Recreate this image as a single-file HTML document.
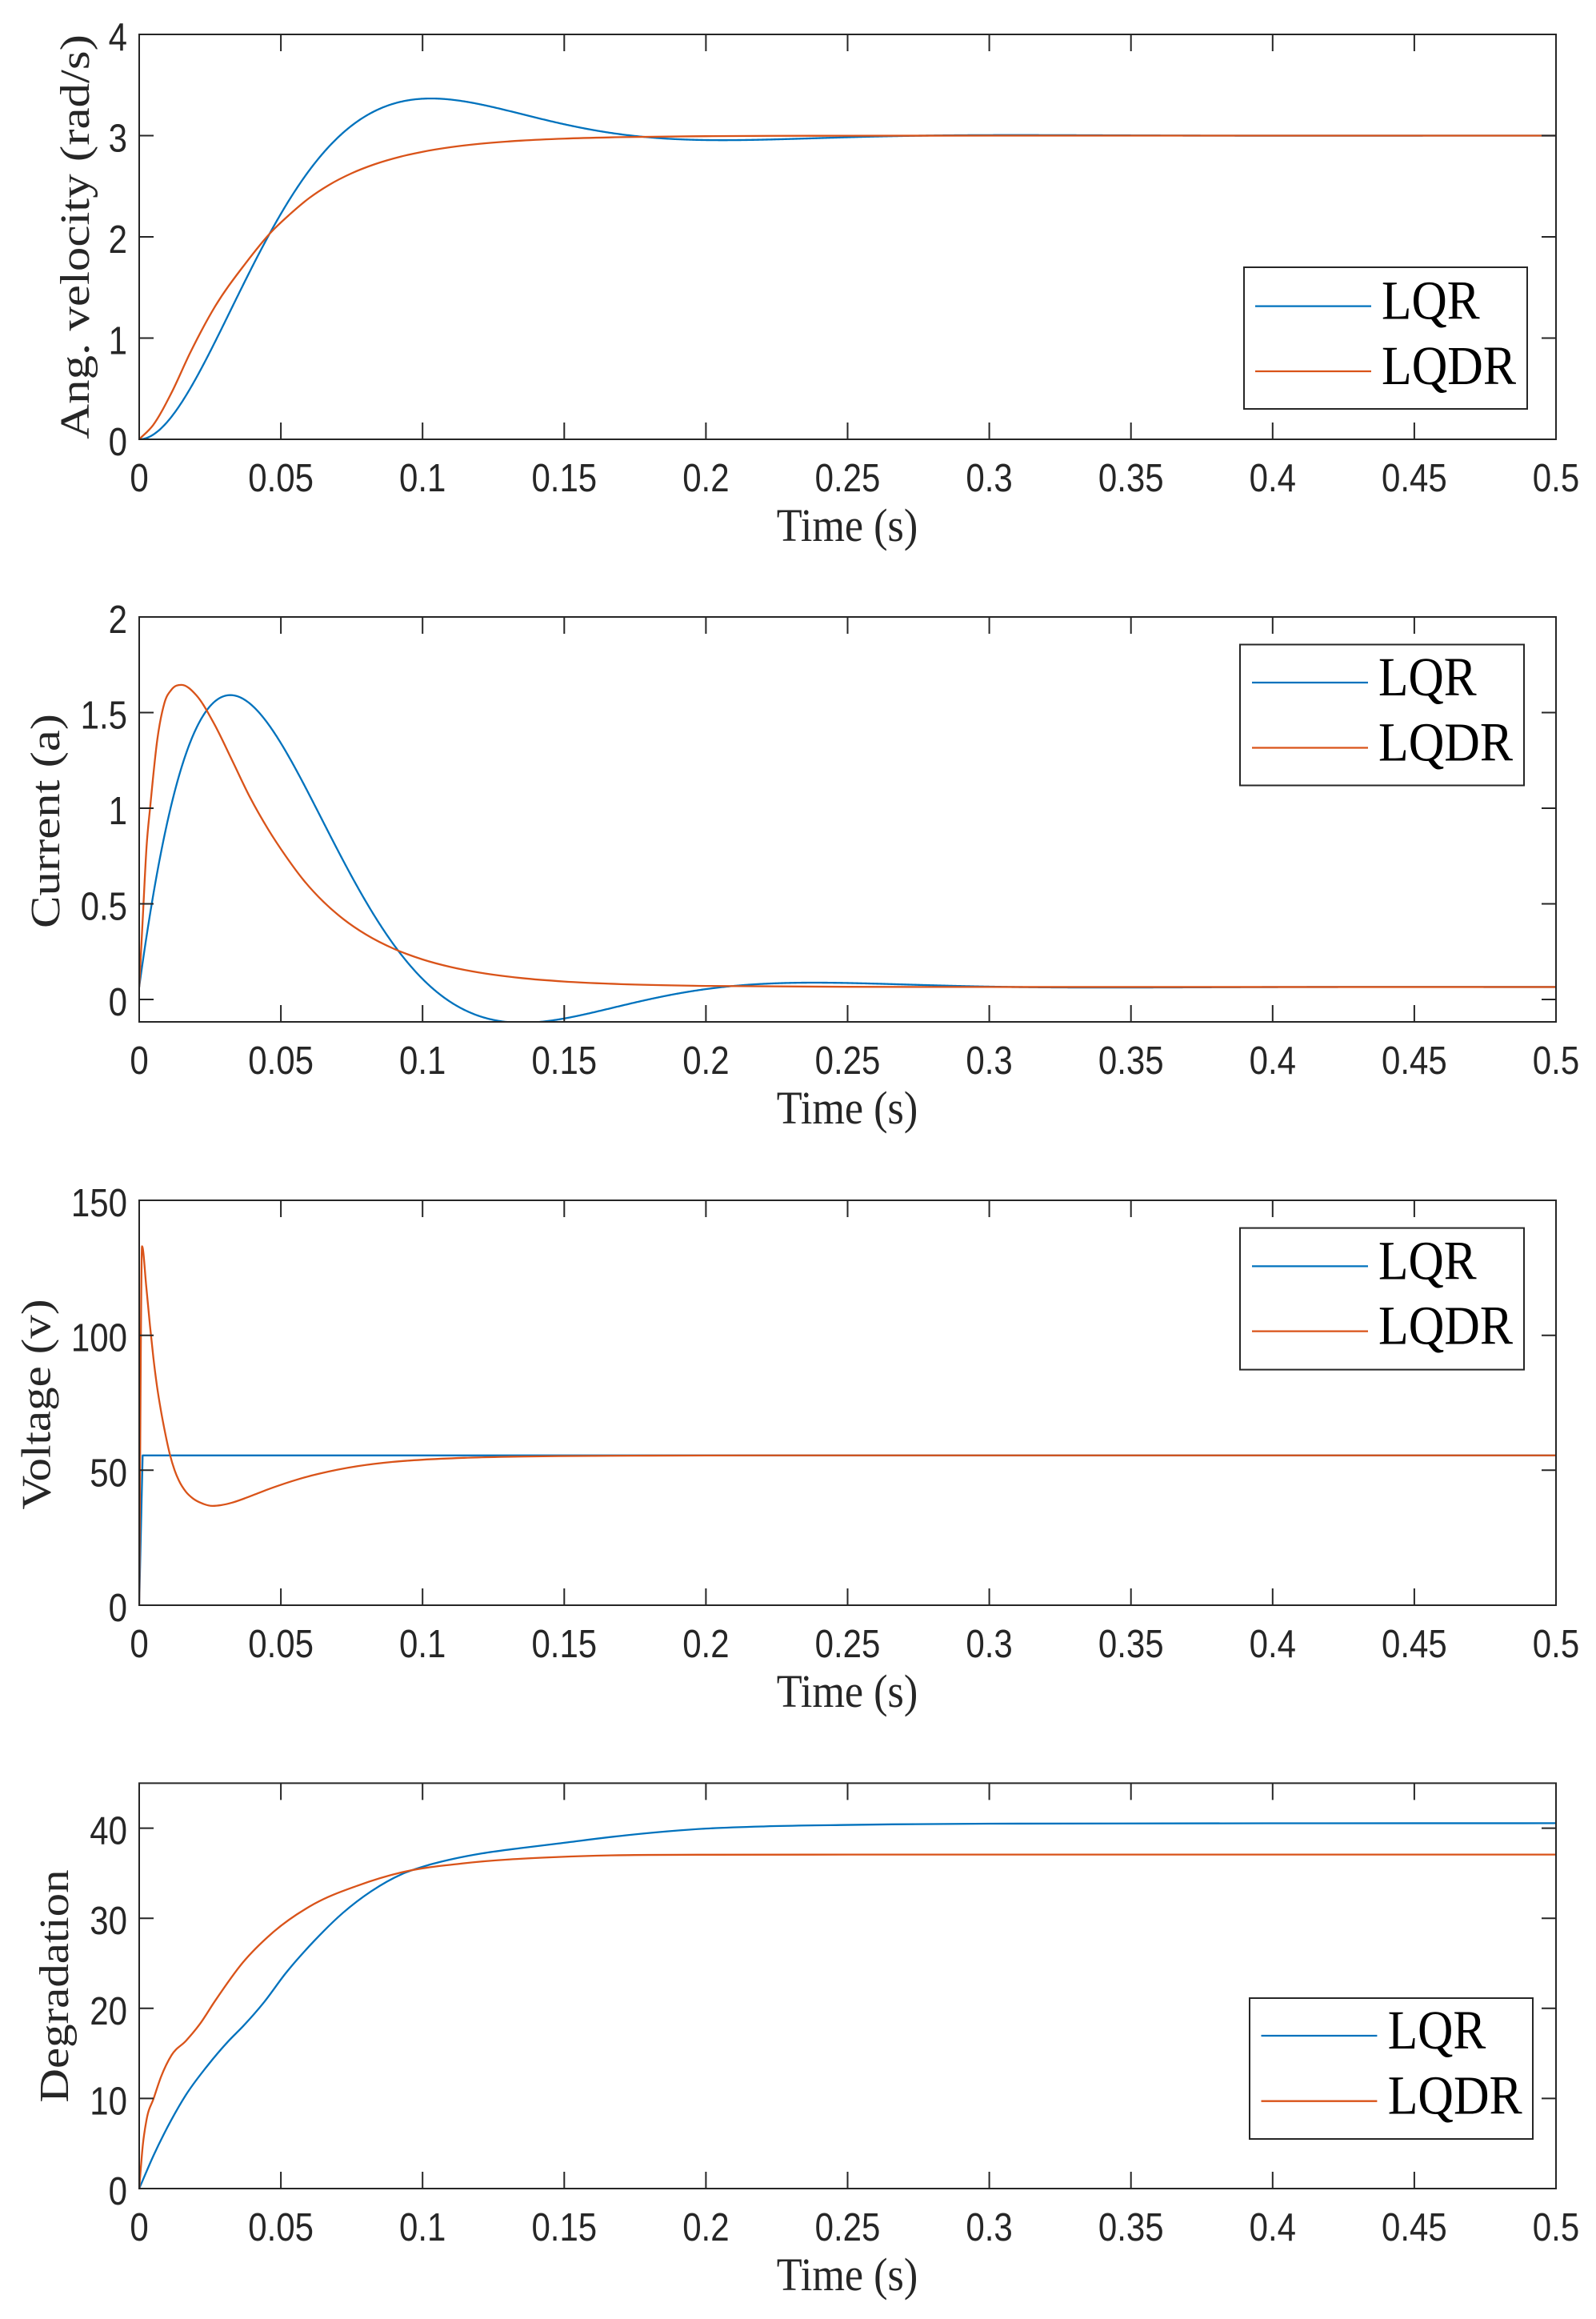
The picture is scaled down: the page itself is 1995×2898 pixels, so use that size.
<!DOCTYPE html>
<html>
<head>
<meta charset="utf-8">
<style>
html,body{margin:0;padding:0;background:#fff;}
svg{display:block;}
.tk{font-family:"Liberation Sans",Arial,sans-serif;font-size:42px;fill:#262626;}
.xt{text-anchor:middle;}
.yt{text-anchor:end;}
.lab{font-family:"Liberation Serif","Times New Roman",serif;font-size:52px;fill:#262626;text-anchor:middle;}
.tl{font-family:"Liberation Serif","Times New Roman",serif;font-size:50px;fill:#262626;text-anchor:middle;}
.lg{font-family:"Liberation Serif","Times New Roman",serif;font-size:59.4px;fill:#000;}
</style>
</head>
<body>
<svg width="1995" height="2898" viewBox="0 0 1995 2898">
<rect x="0" y="0" width="1995" height="2898" fill="#fff"/>
<defs>
<clipPath id="c1"><rect x="174" y="43" width="1771" height="506"/></clipPath>
<clipPath id="c2"><rect x="174" y="771" width="1771" height="506"/></clipPath>
<clipPath id="c3"><rect x="174" y="1500" width="1771" height="506"/></clipPath>
<clipPath id="c4"><rect x="174" y="2228.4" width="1771" height="506.6"/></clipPath>
</defs>

<!-- series -->
<g fill="none" stroke-width="2.3" stroke-linejoin="round" stroke-linecap="round">
<path id="p1b" clip-path="url(#c1)" stroke="#0072BD" d=""/>
<path id="p1r" clip-path="url(#c1)" stroke="#D95319" d=""/>
<path id="p2b" clip-path="url(#c2)" stroke="#0072BD" d=""/>
<path id="p2r" clip-path="url(#c2)" stroke="#D95319" d=""/>
<path id="p3b" clip-path="url(#c3)" stroke="#0072BD" d="M174,2006L178.3,1818.8L1945,1818.8"/>
<path id="p3r" clip-path="url(#c3)" stroke="#D95319" d=""/>
<path id="p4b" clip-path="url(#c4)" stroke="#0072BD" d=""/>
<path id="p4r" clip-path="url(#c4)" stroke="#D95319" d=""/>
</g>

<!-- frames -->
<g fill="none" stroke="#262626" stroke-width="2">
<rect x="174" y="43" width="1771" height="506"/>
<rect x="174" y="771" width="1771" height="506"/>
<rect x="174" y="1500" width="1771" height="506"/>
<rect x="174" y="2228.4" width="1771" height="506.6"/>
<path id="ticks" d=""/>
</g>

<!-- legends -->
<g stroke="#262626" stroke-width="2" fill="#fff">
<rect x="1555" y="334" width="354" height="177"/>
<rect x="1550" y="805.5" width="355" height="176"/>
<rect x="1550" y="1534.6" width="355" height="177"/>
<rect x="1562" y="2497" width="354" height="176"/>
</g>
<g stroke-width="2.3" fill="none">
<path stroke="#0072BD" d="M1569,382.6H1714M1565,853H1710M1565,1582.4H1710M1576.5,2544H1721.4"/>
<path stroke="#D95319" d="M1569,464H1714M1565,934.5H1710M1565,1663.6H1710M1576.5,2625.7H1721.4"/>
</g>
<g class="lg">
<text transform="translate(1727,398.6) scale(1,1.16)" textLength="122.6" lengthAdjust="spacingAndGlyphs">LQR</text>
<text transform="translate(1727,480) scale(1,1.16)" textLength="168" lengthAdjust="spacingAndGlyphs">LQDR</text>
<text transform="translate(1723,869) scale(1,1.16)" textLength="122.6" lengthAdjust="spacingAndGlyphs">LQR</text>
<text transform="translate(1723,950.5) scale(1,1.16)" textLength="168" lengthAdjust="spacingAndGlyphs">LQDR</text>
<text transform="translate(1723,1598.4) scale(1,1.16)" textLength="122.6" lengthAdjust="spacingAndGlyphs">LQR</text>
<text transform="translate(1723,1679.6) scale(1,1.16)" textLength="168" lengthAdjust="spacingAndGlyphs">LQDR</text>
<text transform="translate(1734.7,2560) scale(1,1.16)" textLength="122.6" lengthAdjust="spacingAndGlyphs">LQR</text>
<text transform="translate(1734.7,2641.7) scale(1,1.16)" textLength="168" lengthAdjust="spacingAndGlyphs">LQDR</text>
</g>

<!-- x tick labels -->
<g class="tk xt">
<text transform="translate(174,614) scale(1,1.16)">0</text>
<text transform="translate(351.1,614) scale(1,1.16)">0.05</text>
<text transform="translate(528.2,614) scale(1,1.16)">0.1</text>
<text transform="translate(705.3,614) scale(1,1.16)">0.15</text>
<text transform="translate(882.4,614) scale(1,1.16)">0.2</text>
<text transform="translate(1059.5,614) scale(1,1.16)">0.25</text>
<text transform="translate(1236.6,614) scale(1,1.16)">0.3</text>
<text transform="translate(1413.7,614) scale(1,1.16)">0.35</text>
<text transform="translate(1590.8,614) scale(1,1.16)">0.4</text>
<text transform="translate(1767.9,614) scale(1,1.16)">0.45</text>
<text transform="translate(1945,614) scale(1,1.16)">0.5</text>

<text transform="translate(174,1342) scale(1,1.16)">0</text>
<text transform="translate(351.1,1342) scale(1,1.16)">0.05</text>
<text transform="translate(528.2,1342) scale(1,1.16)">0.1</text>
<text transform="translate(705.3,1342) scale(1,1.16)">0.15</text>
<text transform="translate(882.4,1342) scale(1,1.16)">0.2</text>
<text transform="translate(1059.5,1342) scale(1,1.16)">0.25</text>
<text transform="translate(1236.6,1342) scale(1,1.16)">0.3</text>
<text transform="translate(1413.7,1342) scale(1,1.16)">0.35</text>
<text transform="translate(1590.8,1342) scale(1,1.16)">0.4</text>
<text transform="translate(1767.9,1342) scale(1,1.16)">0.45</text>
<text transform="translate(1945,1342) scale(1,1.16)">0.5</text>

<text transform="translate(174,2071) scale(1,1.16)">0</text>
<text transform="translate(351.1,2071) scale(1,1.16)">0.05</text>
<text transform="translate(528.2,2071) scale(1,1.16)">0.1</text>
<text transform="translate(705.3,2071) scale(1,1.16)">0.15</text>
<text transform="translate(882.4,2071) scale(1,1.16)">0.2</text>
<text transform="translate(1059.5,2071) scale(1,1.16)">0.25</text>
<text transform="translate(1236.6,2071) scale(1,1.16)">0.3</text>
<text transform="translate(1413.7,2071) scale(1,1.16)">0.35</text>
<text transform="translate(1590.8,2071) scale(1,1.16)">0.4</text>
<text transform="translate(1767.9,2071) scale(1,1.16)">0.45</text>
<text transform="translate(1945,2071) scale(1,1.16)">0.5</text>

<text transform="translate(174,2800) scale(1,1.16)">0</text>
<text transform="translate(351.1,2800) scale(1,1.16)">0.05</text>
<text transform="translate(528.2,2800) scale(1,1.16)">0.1</text>
<text transform="translate(705.3,2800) scale(1,1.16)">0.15</text>
<text transform="translate(882.4,2800) scale(1,1.16)">0.2</text>
<text transform="translate(1059.5,2800) scale(1,1.16)">0.25</text>
<text transform="translate(1236.6,2800) scale(1,1.16)">0.3</text>
<text transform="translate(1413.7,2800) scale(1,1.16)">0.35</text>
<text transform="translate(1590.8,2800) scale(1,1.16)">0.4</text>
<text transform="translate(1767.9,2800) scale(1,1.16)">0.45</text>
<text transform="translate(1945,2800) scale(1,1.16)">0.5</text>
</g>

<!-- y tick labels -->
<g class="tk yt">
<text transform="translate(159,569) scale(1,1.16)">0</text>
<text transform="translate(159,442.5) scale(1,1.16)">1</text>
<text transform="translate(159,316) scale(1,1.16)">2</text>
<text transform="translate(159,189.5) scale(1,1.16)">3</text>
<text transform="translate(159,63) scale(1,1.16)">4</text>

<text transform="translate(159,1269) scale(1,1.16)">0</text>
<text transform="translate(159,1149.5) scale(1,1.16)">0.5</text>
<text transform="translate(159,1030) scale(1,1.16)">1</text>
<text transform="translate(159,910.5) scale(1,1.16)">1.5</text>
<text transform="translate(159,791) scale(1,1.16)">2</text>

<text transform="translate(159,2026) scale(1,1.16)">0</text>
<text transform="translate(159,1857.3) scale(1,1.16)">50</text>
<text transform="translate(159,1688.7) scale(1,1.16)">100</text>
<text transform="translate(159,1520) scale(1,1.16)">150</text>

<text transform="translate(159,2755) scale(1,1.16)">0</text>
<text transform="translate(159,2642.4) scale(1,1.16)">10</text>
<text transform="translate(159,2529.8) scale(1,1.16)">20</text>
<text transform="translate(159,2417.2) scale(1,1.16)">30</text>
<text transform="translate(159,2304.6) scale(1,1.16)">40</text>
</g>

<!-- axis labels -->
<g class="tl">
<text transform="translate(1059,676) scale(1,1.16)" textLength="176.5" lengthAdjust="spacingAndGlyphs">Time (s)</text>
<text transform="translate(1059,1404) scale(1,1.16)" textLength="176.5" lengthAdjust="spacingAndGlyphs">Time (s)</text>
<text transform="translate(1059,2133) scale(1,1.16)" textLength="176.5" lengthAdjust="spacingAndGlyphs">Time (s)</text>
<text transform="translate(1059,2862) scale(1,1.16)" textLength="176.5" lengthAdjust="spacingAndGlyphs">Time (s)</text>
</g>
<g class="lab">
<text transform="translate(111,296) scale(1,1.16) rotate(-90)" textLength="436" lengthAdjust="spacingAndGlyphs">Ang. velocity (rad/s)</text>
<text transform="translate(74,1026) scale(1,1.16) rotate(-90)" textLength="231" lengthAdjust="spacingAndGlyphs">Current (a)</text>
<text transform="translate(62.5,1755) scale(1,1.16) rotate(-90)" textLength="226.7" lengthAdjust="spacingAndGlyphs">Voltage (v)</text>
<text transform="translate(85,2482) scale(1,1.16) rotate(-90)" textLength="251" lengthAdjust="spacingAndGlyphs">Degradation</text>
</g>
</svg>

<script>
(function(){
  function X(t){return 174+t*3542;}
  var y1=function(v){return 549-v*126.5;};
  var y2=function(v){return 1249-v*239;};
  var y3=function(v){return 2006-v*3.3733;};
  var y4=function(v){return 2735-v*11.26;};

  function mono(data,yf){
    var pts=data.map(function(p){return [X(p[0]),yf(p[1])];});
    var n=pts.length,d=[],m=[],i;
    for(i=0;i<n-1;i++){d.push((pts[i+1][1]-pts[i][1])/(pts[i+1][0]-pts[i][0]));}
    m[0]=d[0];m[n-1]=d[n-2];
    for(i=1;i<n-1;i++){
      if(d[i-1]*d[i]<=0) m[i]=0;
      else {
        var h0=pts[i][0]-pts[i-1][0],h1=pts[i+1][0]-pts[i][0];
        m[i]=(d[i-1]*h1+d[i]*h0)/(h0+h1);
      }
    }
    for(i=0;i<n-1;i++){
      if(d[i]===0){m[i]=0;m[i+1]=0;continue;}
      var a=m[i]/d[i],b=m[i+1]/d[i],s=a*a+b*b;
      if(s>9){var tau=3/Math.sqrt(s);m[i]=tau*a*d[i];m[i+1]=tau*b*d[i];}
    }
    var p='M'+pts[0][0].toFixed(2)+','+pts[0][1].toFixed(2);
    for(i=0;i<n-1;i++){
      var h=pts[i+1][0]-pts[i][0];
      p+='C'+(pts[i][0]+h/3).toFixed(2)+','+(pts[i][1]+m[i]*h/3).toFixed(2)+' '+
         (pts[i+1][0]-h/3).toFixed(2)+','+(pts[i+1][1]-m[i+1]*h/3).toFixed(2)+' '+
         pts[i+1][0].toFixed(2)+','+pts[i+1][1].toFixed(2);
    }
    return p;
  }
  function sample(f,yf){
    var s='';
    for(var i=0;i<=1771;i++){
      var t=i/3542;
      s+=(i?'L':'M')+(174+i)+','+yf(f(t)).toFixed(2);
    }
    return s;
  }
  var sg=20.4,wd=30.5;
  function w(t){var e=Math.exp(-sg*t);return 3*(1-e*(Math.cos(wd*t)+sg/wd*Math.sin(wd*t)));}
  function cur(t){return 0.065+3.54*Math.exp(-sg*t)*Math.sin(wd*t);}

  function set(id,d){var el=document.getElementById(id); if(el) el.setAttribute('d',d);}

  // P1
  set('p1b',sample(w,y1));
  var r1=[[0,0],[0.0049,0.14],[0.0114,0.46],[0.0179,0.85],[0.0265,1.30],[0.0373,1.73],[0.047,2.06]];
  [0.053,0.06,0.067,0.075,0.083,0.092,0.1,0.11,0.12,0.135,0.15,0.17,0.2,0.25,0.3,0.4,0.5].forEach(function(t){
    r1.push([t,3-0.64*Math.exp(-(t-0.0589)/0.0296)]);
  });
  set('p1r',mono(r1,y1));

  // P2
  set('p2b',sample(cur,y2));
  var r2=[[0,0.065],[0.00128,0.43],[0.0026,0.80],[0.0039,1.01],[0.0064,1.36],[0.0089,1.55],[0.0114,1.62],[0.0149,1.645],[0.0202,1.59],[0.0265,1.44],[0.0328,1.25],[0.039,1.06],[0.0455,0.89]];
  [0.0517,0.058,0.065,0.072,0.08,0.09,0.1,0.11,0.12,0.135,0.15,0.17,0.2,0.25,0.3,0.4,0.5].forEach(function(t){
    r2.push([t,0.065+0.685*Math.exp(-(t-0.0517)/0.031)]);
  });
  set('p2r',mono(r2,y2));

  // P3
  set('p3r',mono([[0,0],[0.001,133],[0.0025,118],[0.0038,103.6],[0.005,91.7],[0.0063,81],[0.0076,72.5],[0.0089,65.2],[0.0108,56.0],[0.0125,50.0],[0.014,46.2],[0.0165,42.0],[0.0189,39.6],[0.022,37.8],[0.0259,36.8],[0.029,37.1],[0.0328,38.0],[0.037,39.5],[0.041,41.1],[0.0454,42.9],[0.05,44.6],[0.055,46.3],[0.06,47.8],[0.0643,48.9],[0.07,50.2],[0.077,51.5],[0.0895,53.1],[0.1,53.9],[0.1146,54.6],[0.13,55.0],[0.148,55.25],[0.18,55.42],[0.22,55.5],[0.3,55.5],[0.5,55.5]],y3));

  // P4
  set('p4b',mono([[0,0],[0.0051,3.7],[0.0114,7.65],[0.0165,10.4],[0.024,13.6],[0.0316,16.4],[0.0366,18.0],[0.0441,20.7],[0.0517,23.9],[0.0618,27.5],[0.0719,30.6],[0.0819,33.0],[0.0927,34.9],[0.102,35.9],[0.111,36.6],[0.121,37.2],[0.135,37.8],[0.148,38.3],[0.1716,39.2],[0.2,39.95],[0.221,40.2],[0.25,40.36],[0.3,40.5],[0.5,40.55]],y4));
  set('p4r',mono([[0,0],[0.0013,4.9],[0.0026,7.65],[0.0051,10.0],[0.0077,12.4],[0.0114,14.8],[0.0165,16.4],[0.0215,18.3],[0.0265,20.7],[0.0366,25.1],[0.0467,28.3],[0.0618,31.6],[0.0769,33.6],[0.0927,35.1],[0.1146,36.1],[0.148,36.8],[0.2,37.05],[0.3,37.07],[0.5,37.07]],y4));

  var tops=[43,771,1500,2228.4],bots=[549,1277,2006,2735];
  var yt=[[0,1,2,3,4].map(y1),[0,0.5,1,1.5,2].map(y2),[0,50,100,150].map(y3),[0,10,20,30,40].map(y4)];
  var d='';
  for(var k=0;k<4;k++){
    for(var i=1;i<10;i++){var x=X(i*0.05).toFixed(1);d+='M'+x+','+bots[k]+'v-21M'+x+','+tops[k]+'v21';}
    yt[k].forEach(function(y){y=y.toFixed(1);d+='M174,'+y+'h18M1945,'+y+'h-18';});
  }
  set('ticks',d);
})();
</script>
</body>
</html>
